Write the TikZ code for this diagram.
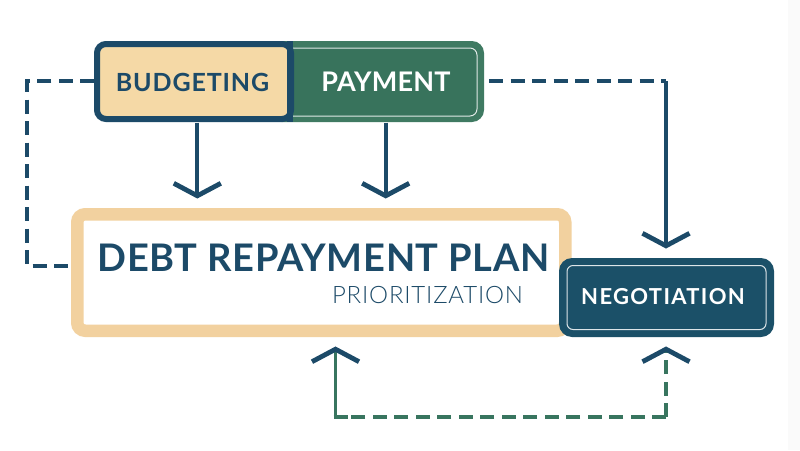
\documentclass[tikz,border=0pt]{standalone}
\usepackage{fontspec}
\setmainfont{Lato}
\newfontfamily\lightfont[LetterSpace=3.4]{Lato Light}
\usetikzlibrary{arrows.meta}
\definecolor{navy}{HTML}{1C4A68}
\definecolor{teal1}{HTML}{1B5068}
\definecolor{sand}{HTML}{F5D9A6}
\definecolor{sandedge}{HTML}{F2D19F}
\definecolor{forest}{HTML}{38735C}
\definecolor{forestedge}{HTML}{3F7A62}
\definecolor{dashgreen}{HTML}{38755F}
\pgfdeclarearrow{
  name=WideVee,
  setup code={
    \pgfarrowssettipend{0pt}
    \pgfarrowssetlineend{-3pt}
    \pgfarrowssetvisualbackend{-12pt}
    \pgfarrowssetbackend{-12pt}
    \pgfarrowshullpoint{0pt}{0pt}
    \pgfarrowshullpoint{-12pt}{24pt}
    \pgfarrowshullpoint{-12pt}{-24pt}
  },
  drawing code={
    \pgfsetdash{}{0pt}
    \pgfsetlinewidth{4.8pt}
    \pgfsetmiterjoin
    \pgfsetbuttcap
    \pgfpathmoveto{\pgfqpoint{-12.5pt}{23.5pt}}
    \pgfpathlineto{\pgfqpoint{0pt}{0pt}}
    \pgfpathlineto{\pgfqpoint{-12.5pt}{-23.5pt}}
    \pgfusepathqstroke
  }
}
\tikzset{
  x=1pt,y=-1pt,
  label text/.style={inner sep=0pt,anchor=center},
  link/.style={line width=4.2pt,navy},
  dashlink/.style={line width=3.6pt,dash pattern=on 14pt off 7.5pt},
  barb/.style={-{WideVee[color=navy]}},
}
\begin{document}
\begin{tikzpicture}
\useasboundingbox (0,0) rectangle (800,450);
\fill[white] (0,0) rectangle (800,450);
\fill[black!2] (788,0) rectangle (800,450);
% payment shape
\fill[forestedge,rounded corners=12pt] (270,41) rectangle (484,122);
\fill[forest,rounded corners=7pt] (270,47) rectangle (478,116.5);
\draw[white!85!forest,line width=1pt,rounded corners=7pt] (293,48) -- (477,48) -- (477,116) -- (293,116);
% budgeting shape
\draw[navy,line width=6pt,fill=sand,rounded corners=9pt] (291,44) -- (97,44) -- (97,119) -- (291,119) -- cycle;
\fill[navy] (287,41) rectangle (293,122);
% main
\draw[sandedge,line width=12.5pt,fill=white,rounded corners=8pt] (77.25,214.25) rectangle (565.25,330.75);
% negotiation
\fill[teal1,rounded corners=13pt] (559,258) rectangle (774,337);
\draw[white!85!teal1,line width=1pt,rounded corners=6pt] (567,265.5) rectangle (766,329.5);
% nodes
\node[label text,text=navy,font=\bfseries\fontsize{25}{25}\selectfont,minimum width=196pt,minimum height=81pt] (budget) at (192.5,82) {\addfontfeatures{LetterSpace=3.5}BUDGETING};
\node[label text,text=white,font=\bfseries\fontsize{27}{27}\selectfont,minimum width=194pt,minimum height=81pt] (payment) at (386,82) {\addfontfeatures{LetterSpace=1}PAYMENT};
\node[inner sep=0pt,minimum width=501pt,minimum height=129pt] (main) at (321.5,272.5) {};
\node[inner sep=0pt,text=navy,font=\bfseries\fontsize{38}{38}\selectfont] (title) at (323.5,258) {\addfontfeatures{LetterSpace=1.7}DEBT REPAYMENT PLAN};
\node[inner sep=0pt,text=navy,font=\lightfont\fontsize{24}{24}\selectfont] (sub) at (427.5,295) {PRIORITIZATION};
\node[label text,text=white,font=\bfseries\fontsize{22}{22}\selectfont,minimum width=215pt,minimum height=79pt] (neg) at (663,297) {\addfontfeatures{LetterSpace=6}NEGOTIATION};
% connectors
\coordinate (lt) at (27,81);
\coordinate (lb) at (27,266);
\coordinate (rt) at (666,81);
\coordinate (gb) at (666,417);
\coordinate (gl) at (335.5,417);
\draw[dashlink,navy] ([yshift=1pt]budget.west) -- (lt) -- (lb) -- (main.west |- lb);
\draw[dashlink,navy] ([xshift=6pt,yshift=1pt]payment.east) -- (rt);
\draw[link,barb] (rt) -- ([xshift=3pt,yshift=11.5pt]neg.north);
\draw[link,barb] ([xshift=4.8pt]budget.south) -- ([xshift=-124.2pt,yshift=12pt]main.north);
\draw[link,barb] ([xshift=-0.3pt]payment.south) -- ([xshift=64.2pt,yshift=12pt]main.north);
\draw[dashlink,dashgreen] (gb) -- (gl);
\draw[dashgreen,line width=3.6pt] (gl) ++(-1.8,0) -- ++(14,0);
\draw[dashgreen,line width=3.6pt,barb] (gl) -- ([xshift=14pt,yshift=-12pt]main.south);
\draw[dashlink,dashgreen,barb] (gb) -- ([xshift=3pt,yshift=-12.5pt]neg.south);
\end{tikzpicture}
\end{document}
